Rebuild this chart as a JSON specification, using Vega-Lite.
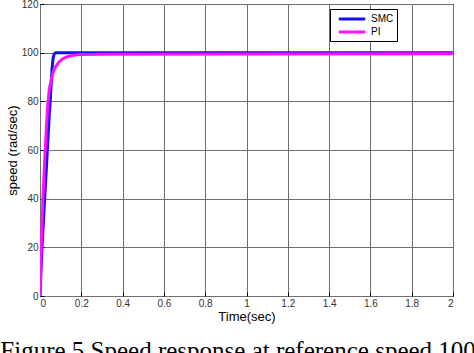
{
  "$schema": "https://vega.github.io/schema/vega-lite/v6.json",
  "width": 413,
  "height": 292,
  "autosize": "none",
  "padding": {"left": 40, "top": 4, "right": 21, "bottom": 57},
  "background": "white",
  "config": {
    "view": {"stroke": "#000000", "strokeWidth": 1},
    "font": "Liberation Sans"
  },
  "title": {
    "text": "Figure 5 Speed response at reference speed 100",
    "orient": "bottom",
    "anchor": "start",
    "dx": -6,
    "offset": 16,
    "font": "Liberation Serif",
    "fontSize": 25,
    "fontWeight": "normal",
    "color": "#000000"
  },
  "data": {
    "values": [
      {"t": 0, "speed": 0, "ctrl": "SMC"},
      {"t": 0.009, "speed": 19, "ctrl": "SMC"},
      {"t": 0.046, "speed": 76, "ctrl": "SMC"},
      {"t": 0.05, "speed": 81, "ctrl": "SMC"},
      {"t": 0.058, "speed": 93, "ctrl": "SMC"},
      {"t": 0.063, "speed": 97.5, "ctrl": "SMC"},
      {"t": 0.068, "speed": 99.4, "ctrl": "SMC"},
      {"t": 0.075, "speed": 100, "ctrl": "SMC"},
      {"t": 0.5, "speed": 100, "ctrl": "SMC"},
      {"t": 1.0, "speed": 100, "ctrl": "SMC"},
      {"t": 2.0, "speed": 100, "ctrl": "SMC"},
      {"t": 0, "speed": 0, "ctrl": "PI"},
      {"t": 0.005, "speed": 18, "ctrl": "PI"},
      {"t": 0.014, "speed": 40, "ctrl": "PI"},
      {"t": 0.025, "speed": 60, "ctrl": "PI"},
      {"t": 0.036, "speed": 77, "ctrl": "PI"},
      {"t": 0.045, "speed": 85, "ctrl": "PI"},
      {"t": 0.057, "speed": 90, "ctrl": "PI"},
      {"t": 0.07, "speed": 93.5, "ctrl": "PI"},
      {"t": 0.09, "speed": 96, "ctrl": "PI"},
      {"t": 0.11, "speed": 97.5, "ctrl": "PI"},
      {"t": 0.13, "speed": 98.3, "ctrl": "PI"},
      {"t": 0.16, "speed": 98.9, "ctrl": "PI"},
      {"t": 0.2, "speed": 99.2, "ctrl": "PI"},
      {"t": 0.3, "speed": 99.4, "ctrl": "PI"},
      {"t": 1.0, "speed": 99.5, "ctrl": "PI"},
      {"t": 2.0, "speed": 99.6, "ctrl": "PI"}
    ]
  },
  "mark": {"type": "line", "strokeWidth": 3, "clip": true},
  "encoding": {
    "x": {
      "field": "t",
      "type": "quantitative",
      "scale": {"domain": [0, 2], "nice": false, "zero": false},
      "axis": {
        "title": "Time(sec)",
        "values": [0, 0.2, 0.4, 0.6, 0.8, 1, 1.2, 1.4, 1.6, 1.8, 2],
        "labelExpr": "datum.value == 0 ? '0' : format(datum.value, '.1~f')",
        "grid": true,
        "gridColor": "#6e6e6e",
        "gridOpacity": 1,
        "gridWidth": 1,
        "domain": false,
        "tickSize": -4,
        "tickColor": "#000000",
        "labelFontSize": 10,
        "labelColor": "#333333",
        "labelPadding": 6,
        "titleFontSize": 13,
        "titleFontWeight": "normal",
        "titleColor": "#000000",
        "titlePadding": 2
      }
    },
    "y": {
      "field": "speed",
      "type": "quantitative",
      "scale": {"domain": [0, 120], "nice": false},
      "axis": {
        "title": "speed (rad/sec)",
        "values": [0, 20, 40, 60, 80, 100, 120],
        "grid": true,
        "gridColor": "#6e6e6e",
        "gridOpacity": 1,
        "gridWidth": 1,
        "domain": false,
        "tickSize": -4,
        "tickColor": "#000000",
        "labelFontSize": 10,
        "labelColor": "#333333",
        "labelPadding": 6,
        "titleFontSize": 13,
        "titleFontWeight": "normal",
        "titleColor": "#000000",
        "titlePadding": 2
      }
    },
    "color": {
      "field": "ctrl",
      "type": "nominal",
      "scale": {"domain": ["SMC", "PI"], "range": ["#1010ee", "#ff10ff"]},
      "legend": {
        "title": null,
        "orient": "none",
        "legendX": 290,
        "legendY": 5,
        "symbolType": "M-2.4,0H2.4",
        "symbolStrokeWidth": 3,
        "symbolSize": 121,
        "symbolOffset": 12,
        "labelFontSize": 10,
        "labelColor": "#000000",
        "strokeColor": "#000000",
        "fillColor": "#ffffff",
        "padding": 3,
        "rowPadding": -1,
        "labelOffset": 12
      }
    },
    "order": {"field": "ctrl", "sort": "descending"}
  }
}
